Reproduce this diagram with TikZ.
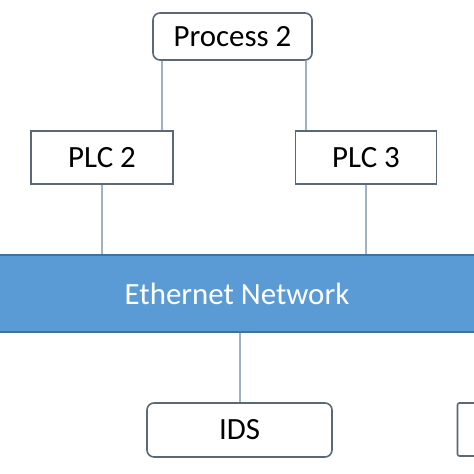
\documentclass[tikz,border=0pt]{standalone}
\usepackage{fontspec}
\setmainfont{Carlito}
\definecolor{boxline}{HTML}{5A6878}
\definecolor{conn}{HTML}{9FB2C4}
\definecolor{netfill}{HTML}{5B9BD5}
\definecolor{netline}{HTML}{41719C}
\begin{document}
\begin{tikzpicture}[x=1bp,y=-1bp,
  txt/.style={font=\fontsize{31}{36}\selectfont},
  box/.style={draw=boxline,line width=1.6bp,fill=white,inner sep=0pt,txt},
  rbox/.style={box,rounded corners=7bp},
  link/.style={draw=conn,line width=1.3bp}]
\useasboundingbox (0,0) rectangle (474,474);
\fill[white] (0,0) rectangle (474,474);
% Ethernet band
\node[draw=netline,fill=netfill,line width=1.3bp,minimum width=490bp,minimum height=77bp,inner sep=0pt,
  text=white,txt] (net) at (237,293.5) {Ethernet Network};
\node[rbox,minimum width=159bp,minimum height=47bp] (p2) at (232.5,36.5) {Process 2};
\node[box,minimum width=142bp,minimum height=53bp] (plc2) at (102,157.5) {PLC 2};
\node[box,minimum width=141bp,minimum height=53bp] (plc3) at (366,157.5) {PLC 3};
\node[rbox,minimum width=185bp,minimum height=54bp] (ids) at (239.5,430) {IDS};
\draw[box,rounded corners=2bp] (490,403) -- (457.5,403) -- (457.5,456) -- (490,456);
% connectors
\coordinate (c1) at (162,0);
\coordinate (c2) at (306,0);
\coordinate (c3) at (240,0);
\draw[link] (p2.south -| c1) -- (plc2.north -| c1);
\draw[link] (p2.south -| c2) -- (plc3.north -| c2);
\draw[link] (plc2.south) -- (plc2.south |- net.north);
\draw[link] (plc3.south) -- (plc3.south |- net.north);
\draw[link] (net.south -| c3) -- (ids.north -| c3);
\end{tikzpicture}
\end{document}
